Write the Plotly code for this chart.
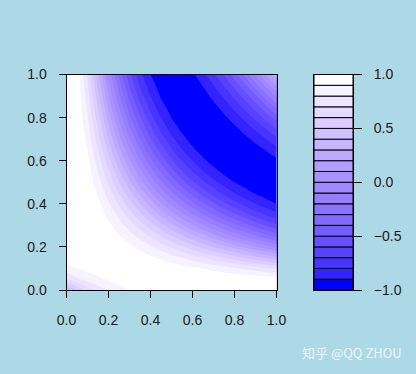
import plotly.graph_objects as go

# grid coordinates (both axes)
grid_x = [0, 0.05, 0.1, 0.15, 0.2, 0.25, 0.3, 0.35, 0.4, 0.45, 0.5,
          0.55, 0.6, 0.65, 0.7, 0.75, 0.8, 0.85, 0.9, 0.95, 1.0]
grid_y = [0, 0.05, 0.1, 0.15, 0.2, 0.25, 0.3, 0.35, 0.4, 0.45, 0.5,
          0.55, 0.6, 0.65, 0.7, 0.75, 0.8, 0.85, 0.9, 0.95, 1.0]

# z values, one row per y value
z_rows = [
    [0.35, 0.52, 0.65, 0.75, 0.81, 0.86, 0.90, 0.93, 0.95, 0.96, 0.97, 0.98, 0.985, 0.99, 0.99, 0.99, 1.0, 1.0, 1.0, 1.0, 1.0],
    [0.70, 0.78, 0.84, 0.88, 0.91, 0.94, 0.955, 0.97, 0.98, 0.98, 0.99, 0.99, 0.99, 0.995, 0.995, 0.993, 0.99, 0.985, 0.98, 0.97, 0.965],
    [0.86, 0.90, 0.93, 0.95, 0.96, 0.97, 0.98, 0.984, 0.981, 0.973, 0.959, 0.942, 0.921, 0.898, 0.873, 0.845, 0.815, 0.785, 0.753, 0.72, 0.686],
    [0.94, 0.95, 0.97, 0.98, 0.98, 0.983, 0.971, 0.949, 0.919, 0.883, 0.843, 0.80, 0.753, 0.703, 0.651, 0.598, 0.545, 0.491, 0.437, 0.382, 0.328],
    [0.97, 0.98, 0.985, 0.99, 0.984, 0.959, 0.92, 0.874, 0.816, 0.753, 0.686, 0.616, 0.545, 0.473, 0.401, 0.328, 0.255, 0.184, 0.114, 0.045, -0.022],
    [0.987, 0.99, 0.993, 0.991, 0.961, 0.909, 0.846, 0.769, 0.686, 0.598, 0.509, 0.418, 0.328, 0.237, 0.149, 0.062, -0.022, -0.104, -0.182, -0.258, -0.330],
    [0.994, 0.997, 1.0, 0.981, 0.924, 0.846, 0.753, 0.651, 0.545, 0.437, 0.328, 0.220, 0.114, 0.011, -0.088, -0.182, -0.272, -0.357, -0.437, -0.512, -0.580],
    [1.0, 1.0, 0.999, 0.956, 0.874, 0.769, 0.651, 0.527, 0.401, 0.273, 0.149, 0.028, -0.088, -0.198, -0.301, -0.398, -0.487, -0.569, -0.645, -0.712, -0.771],
    [1.0, 1.0, 0.992, 0.924, 0.816, 0.686, 0.545, 0.401, 0.255, 0.114, -0.022, -0.152, -0.272, -0.384, -0.487, -0.580, -0.664, -0.738, -0.802, -0.856, -0.901],
    [1.0, 1.0, 0.981, 0.887, 0.753, 0.598, 0.437, 0.273, 0.114, -0.039, -0.182, -0.315, -0.437, -0.546, -0.645, -0.729, -0.802, -0.862, -0.911, -0.949, -0.976],
    [1.0, 1.0, 0.965, 0.846, 0.686, 0.509, 0.328, 0.149, -0.022, -0.182, -0.330, -0.463, -0.580, -0.684, -0.771, -0.843, -0.901, -0.945, -0.976, -0.994, -1.0],
    [1.0, 1.0, 0.946, 0.800, 0.616, 0.418, 0.220, 0.028, -0.152, -0.315, -0.463, -0.591, -0.703, -0.795, -0.868, -0.925, -0.965, -0.990, -1.0, -0.996, -0.980],
    [1.0, 1.0, 0.924, 0.753, 0.545, 0.328, 0.114, -0.088, -0.272, -0.437, -0.580, -0.703, -0.802, -0.880, -0.938, -0.976, -0.996, -0.999, -0.987, -0.961, -0.922],
    [1.0, 1.0, 0.900, 0.703, 0.473, 0.237, 0.011, -0.198, -0.384, -0.546, -0.684, -0.795, -0.880, -0.942, -0.980, -0.998, -0.997, -0.978, -0.943, -0.894, -0.833],
    [1.0, 0.999, 0.874, 0.651, 0.401, 0.149, -0.088, -0.301, -0.487, -0.645, -0.771, -0.868, -0.938, -0.980, -0.999, -0.995, -0.971, -0.929, -0.871, -0.803, -0.722],
    [1.0, 0.996, 0.846, 0.598, 0.328, 0.062, -0.182, -0.398, -0.580, -0.729, -0.843, -0.925, -0.976, -0.998, -0.995, -0.968, -0.922, -0.857, -0.781, -0.693, -0.591],
    [1.0, 0.992, 0.816, 0.545, 0.255, -0.022, -0.272, -0.487, -0.664, -0.802, -0.901, -0.965, -0.996, -0.997, -0.971, -0.922, -0.852, -0.770, -0.674, -0.565, -0.446],
    [1.0, 0.987, 0.785, 0.491, 0.184, -0.104, -0.357, -0.569, -0.738, -0.862, -0.945, -0.990, -0.999, -0.978, -0.929, -0.857, -0.770, -0.668, -0.551, -0.424, -0.262],
    [1.0, 0.981, 0.753, 0.437, 0.114, -0.182, -0.437, -0.645, -0.802, -0.911, -0.976, -1.0, -0.987, -0.943, -0.871, -0.781, -0.674, -0.551, -0.416, -0.242, -0.072],
    [1.0, 0.973, 0.720, 0.382, 0.045, -0.258, -0.512, -0.712, -0.856, -0.949, -0.994, -0.996, -0.961, -0.894, -0.803, -0.693, -0.565, -0.424, -0.242, -0.063, 0.119],
    [1.0, 0.965, 0.686, 0.328, -0.022, -0.330, -0.580, -0.771, -0.901, -0.976, -1.0, -0.980, -0.922, -0.833, -0.722, -0.591, -0.446, -0.262, -0.072, 0.119, 0.303],
]

# contour levels (lower edge of each band) and band colours
band_lower = [-1.0, -0.9, -0.8, -0.7, -0.6, -0.5, -0.4, -0.3, -0.2, -0.1,
              0.0, 0.1, 0.2, 0.3, 0.4, 0.5, 0.6, 0.7, 0.8, 0.9]
band_colors = [
    "rgb(0,0,255)", "rgb(50,35,255)", "rgb(72,52,255)", "rgb(88,66,255)",
    "rgb(103,79,255)", "rgb(117,92,255)", "rgb(129,104,255)", "rgb(140,115,255)",
    "rgb(150,126,255)", "rgb(160,136,255)", "rgb(169,146,255)", "rgb(179,157,255)",
    "rgb(189,169,255)", "rgb(199,181,255)", "rgb(209,193,255)", "rgb(219,205,255)",
    "rgb(228,217,255)", "rgb(237,229,255)", "rgb(246,242,255)", "rgb(255,255,255)",
]
key_ticks = [-1.0, -0.5, 0.0, 0.5, 1.0]
axis_ticks = [0.0, 0.2, 0.4, 0.6, 0.8, 1.0]

# colourscale: plotly samples band k (above level k) at fraction (k+1)/21
n = len(band_lower) + 1
stops = [band_colors[0]] + band_colors + [band_colors[-1]]
colorscale = [[j / n, stops[j]] for j in range(n + 1)]

W, H = 416, 374
BG = "#ADD8E6"
FONT = "Liberation Sans, Arial, sans-serif"

fig = go.Figure()
fig.add_trace(go.Contour(
    x=grid_x, y=grid_y, z=z_rows,
    colorscale=colorscale, showscale=False,
    contours=dict(start=-1, end=1, size=0.1, coloring="fill", showlines=False),
    line=dict(width=0, smoothing=1),
    hoverinfo="skip",
))

fig.add_trace(go.Bar(
    x=[0] * len(band_lower), y=[0.1] * len(band_lower), base=band_lower,
    width=1, marker=dict(color=band_colors, line=dict(color="black", width=1)),
    xaxis="x2", yaxis="y2", hoverinfo="skip", showlegend=False,
))

ydom = [84 / H, 299.5 / H]
axis_common = dict(
    showgrid=False, zeroline=False, showline=True, mirror=True, automargin=False,
    linecolor="black", linewidth=1, ticks="outside", ticklen=7,
    tickcolor="black", tickwidth=1,
    tickfont=dict(family=FONT, size=14, color="#1a1a1a"),
)
fig.update_layout(
    width=W, height=H, autosize=False,
    margin=dict(l=0, r=0, t=0, b=0, pad=0),
    paper_bgcolor=BG, plot_bgcolor=BG,
    showlegend=False, barmode="overlay",
    xaxis=dict(domain=[66.5 / W, 276.5 / W], range=[0, 1], tickvals=axis_ticks,
               tickformat=".1f", ticklabelstandoff=10, **axis_common),
    yaxis=dict(domain=ydom, range=[0, 1], tickvals=axis_ticks,
               tickformat=".1f", ticklabelstandoff=9, **axis_common),
    xaxis2=dict(domain=[314 / W, 353 / W], range=[-0.5, 0.5], anchor="y2",
                showticklabels=False, showgrid=False, zeroline=False, automargin=False,
                showline=True, mirror=True, linecolor="black", linewidth=1),
    yaxis2=dict(domain=ydom, range=[-1, 1], anchor="x2", side="right",
                tickvals=key_ticks, tickformat=".1f", ticklabelstandoff=9,
                **{**axis_common, "ticklen": 8}),
    annotations=[dict(
        text="知乎 @QQ ZHOU", x=300 / W, y=1 - 352 / H, xref="paper", yref="paper",
        xanchor="left", yanchor="middle", showarrow=False,
        font=dict(family="Noto Sans CJK SC, Liberation Sans", size=13,
                  color="rgba(255,255,255,0.8)"),
    )],
)

fig.write_html("out.html")
